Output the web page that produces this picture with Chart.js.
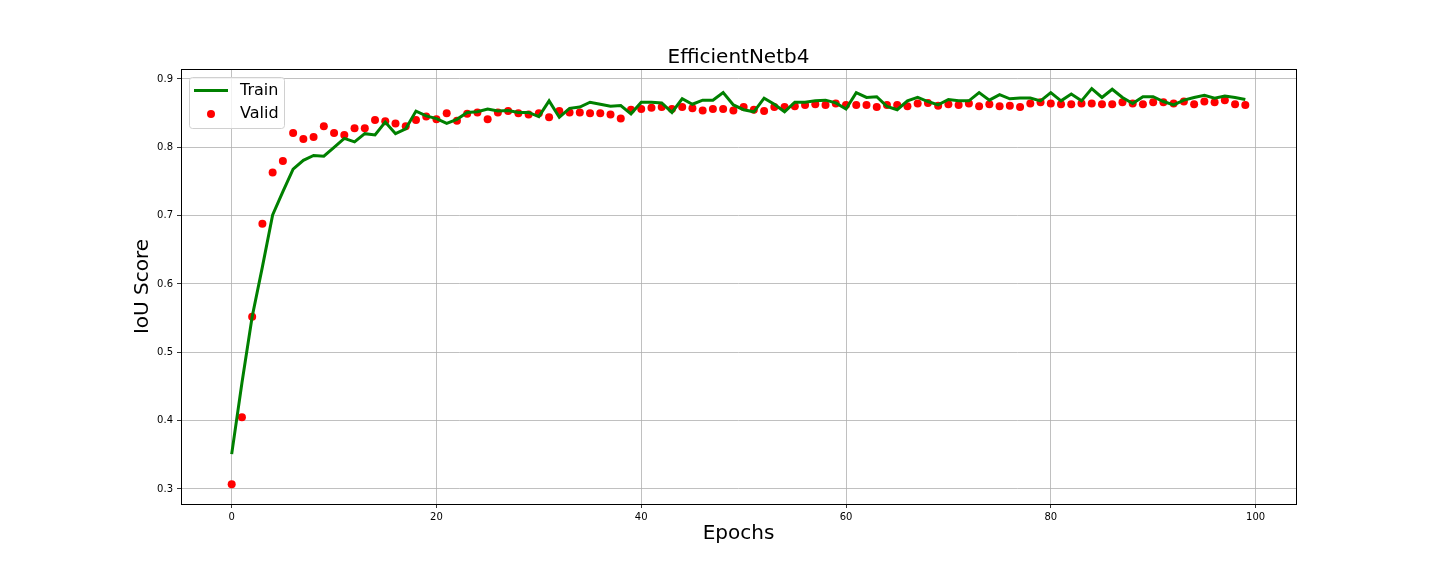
<!DOCTYPE html>
<html>
<head>
<meta charset="utf-8">
<script src="https://cdn.jsdelivr.net/npm/chart.js@4/dist/chart.umd.min.js"></script>
<style>
    html, body { margin: 0; padding: 0; background: #fff; }
    #chart { display: block; }
</style>
</head>
<body>
<canvas id="chart" width="1440" height="576"></canvas>
<script>
const EPOCHS = Array.from({ length: 100 }, (_, i) => i);

const TRAIN = [
    0.351, 0.455, 0.552, 0.625, 0.701, 0.735, 0.768, 0.781, 0.788, 0.787,
    0.800, 0.813, 0.808, 0.820, 0.818, 0.837, 0.820, 0.827, 0.853, 0.846,
    0.842, 0.835, 0.841, 0.851, 0.852, 0.856, 0.853, 0.854, 0.851, 0.851,
    0.845, 0.868, 0.844, 0.857, 0.859, 0.866, 0.863, 0.860, 0.861, 0.849,
    0.866, 0.866, 0.865, 0.851, 0.871, 0.863, 0.869, 0.869, 0.880, 0.862,
    0.855, 0.852, 0.872, 0.863, 0.852, 0.866, 0.866, 0.868, 0.869, 0.865,
    0.856, 0.880, 0.873, 0.874, 0.860, 0.855, 0.868, 0.873, 0.867, 0.862,
    0.870, 0.868, 0.868, 0.880, 0.869, 0.877, 0.871, 0.872, 0.872, 0.868,
    0.880, 0.868, 0.878, 0.868, 0.886, 0.873, 0.885, 0.873, 0.864, 0.874,
    0.874, 0.867, 0.862, 0.869, 0.873, 0.876, 0.872, 0.875, 0.873, 0.870,
];

const VALID = [
    0.307, 0.405, 0.552, 0.688, 0.763, 0.780, 0.821, 0.812, 0.815, 0.831,
    0.821, 0.818, 0.828, 0.828, 0.840, 0.838, 0.835, 0.831, 0.840, 0.845,
    0.841, 0.850, 0.839, 0.849, 0.851, 0.841, 0.851, 0.853, 0.850, 0.848,
    0.850, 0.844, 0.853, 0.851, 0.851, 0.850, 0.850, 0.848, 0.842, 0.855,
    0.856, 0.858, 0.859, 0.856, 0.859, 0.857, 0.854, 0.856, 0.856, 0.854,
    0.859, 0.855, 0.853, 0.859, 0.859, 0.860, 0.862, 0.863, 0.862, 0.864,
    0.862, 0.862, 0.862, 0.859, 0.862, 0.862, 0.860, 0.864, 0.865, 0.861,
    0.863, 0.862, 0.864, 0.860, 0.863, 0.860, 0.861, 0.859, 0.864, 0.866,
    0.864, 0.863, 0.863, 0.864, 0.864, 0.863, 0.863, 0.866, 0.864, 0.863,
    0.866, 0.866, 0.864, 0.867, 0.863, 0.867, 0.866, 0.869, 0.863, 0.862,
];

const X_TICKS = [0, 20, 40, 60, 80, 100];
const Y_TICKS = [0.3, 0.4, 0.5, 0.6, 0.7, 0.8, 0.9];

const FONT = "'DejaVu Sans', 'Liberation Sans', sans-serif";
const GREEN = "#008000";
const RED = "#ff0000";

// center the title over the plot area, not the whole canvas
const titleOverAreaPlugin = {
    id: "titleOverArea",
    afterLayout(chart) {
        const t = chart.titleBlock;
        if (!t) return;
        t.left = chart.chartArea.left;
        t.right = chart.chartArea.right;
        t.width = t.right - t.left;
    },
};

// black box round the plot area, like matplotlib spines
const framePlugin = {
    id: "frame",
    afterDatasetsDraw(chart) {
        const { ctx, chartArea: a } = chart;
        ctx.save();
        ctx.strokeStyle = "#000";
        ctx.lineWidth = 1;
        ctx.strokeRect(Math.round(a.left) + 0.5, Math.round(a.top) + 0.5,
            Math.round(a.right - a.left), Math.round(a.bottom - a.top));
        ctx.restore();
    },
};

// matplotlib-style legend in the upper left corner
const legendPlugin = {
    id: "mplLegend",
    afterDraw(chart) {
        const { ctx, chartArea: a } = chart;
        const x = a.left + 8, y = a.top + 8, w = 95, h = 51;
        ctx.save();
        ctx.beginPath();
        ctx.roundRect(x + 0.5, y + 0.5, w, h, 3);
        ctx.fillStyle = "rgba(255,255,255,0.8)";
        ctx.fill();
        ctx.strokeStyle = "#d0d0d0";
        ctx.lineWidth = 1;
        ctx.stroke();

        ctx.strokeStyle = GREEN;
        ctx.lineWidth = 3;
        ctx.beginPath();
        ctx.moveTo(x + 5, y + 13.5);
        ctx.lineTo(x + 39, y + 13.5);
        ctx.stroke();

        ctx.fillStyle = RED;
        ctx.beginPath();
        ctx.arc(x + 22, y + 37, 4, 0, Math.PI * 2);
        ctx.fill();

        ctx.fillStyle = "#000";
        ctx.font = "16px " + FONT;
        ctx.textBaseline = "middle";
        ctx.fillText("Train", x + 51, y + 14);
        ctx.fillText("Valid", x + 51, y + 37);
        ctx.restore();
    },
};

const gridStyle = {
    color: "#b0b0b0",
    lineWidth: 0.8,
    tickColor: "#000",
    tickLength: 4,
};

new Chart(document.getElementById("chart"), {
    type: "line",
    data: {
        datasets: [
            {
                label: "Train",
                data: EPOCHS.map((e, i) => ({ x: e, y: TRAIN[i] })),
                borderColor: GREEN,
                borderWidth: 3,
                pointRadius: 0,
                tension: 0,
                fill: false,
            },
            {
                label: "Valid",
                data: EPOCHS.map((e, i) => ({ x: e, y: VALID[i] })),
                showLine: false,
                pointRadius: 4,
                pointBackgroundColor: RED,
                pointBorderColor: RED,
                pointBorderWidth: 0,
            },
        ],
    },
    options: {
        responsive: false,
        animation: false,
        layout: { padding: { left: 0, right: 144, top: 0, bottom: 0 } },
        plugins: {
            legend: { display: false },
            tooltip: { enabled: false },
            title: {
                display: true,
                text: "EfficientNetb4",
                color: "#000",
                font: { family: FONT, size: 20, weight: "normal" },
                padding: { top: 46, bottom: -1 },
            },
        },
        scales: {
            x: {
                type: "linear",
                min: -4.95,
                max: 103.95,
                grid: gridStyle,
                border: { display: false },
                afterBuildTicks: (s) => { s.ticks = X_TICKS.map((v) => ({ value: v })); },
                afterFit: (s) => { s.height = 72; },
                ticks: {
                    color: "#000",
                    font: { family: FONT, size: 10 },
                    padding: 3,
                    maxRotation: 0,
                    callback: (v) => String(v),
                },
                title: {
                    display: true,
                    text: "Epochs",
                    color: "#000",
                    font: { family: FONT, size: 20 },
                    padding: { top: 0, bottom: 30 },
                },
            },
            y: {
                type: "linear",
                min: 0.278,
                max: 0.9146,
                grid: gridStyle,
                border: { display: false },
                afterBuildTicks: (s) => { s.ticks = Y_TICKS.map((v) => ({ value: v })); },
                afterFit: (s) => { s.width = 181; },
                ticks: {
                    color: "#000",
                    font: { family: FONT, size: 10 },
                    padding: 4,
                    callback: (v) => v.toFixed(1),
                },
                title: {
                    display: true,
                    text: "IoU Score",
                    color: "#000",
                    font: { family: FONT, size: 20 },
                    padding: { top: 131, bottom: 0 },
                },
            },
        },
    },
    plugins: [titleOverAreaPlugin, framePlugin, legendPlugin],
});
</script>
</body>
</html>
